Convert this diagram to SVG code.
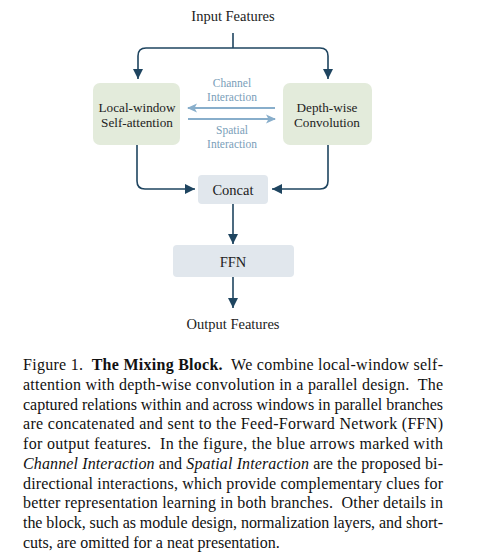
<svg xmlns="http://www.w3.org/2000/svg" width="480" height="558" viewBox="0 0 480 558">
<style>
  text { font-family: "Liberation Serif", "Times New Roman", Times, serif; fill: #222; }
  .big { font-size: 14.5px; text-anchor: middle; }
  .node { font-size: 13.2px; text-anchor: middle; }
  .inter { font-size: 11.5px; text-anchor: middle; fill: #7a9eb9; }
  .cap { font-size: 16px; fill: #111; white-space: pre; }
  .conn { fill: none; stroke: #1f4560; stroke-width: 1.6; }
  .blue { fill: none; stroke: #88aecb; stroke-width: 2.2; }
  .green { fill: #e3ebdb; }
  .grey { fill: #e1e7ed; }
</style>
<defs>
  <marker id="ah" markerUnits="userSpaceOnUse" markerWidth="10" markerHeight="10" refX="10" refY="5" orient="auto">
    <path d="M0,0 L10,5 L0,10 z" fill="#1f4560"/>
  </marker>
  <marker id="bh" markerUnits="userSpaceOnUse" markerWidth="10" markerHeight="10" refX="9" refY="5" orient="auto">
    <path d="M0,0.5 L10,5 L0,9.5 L2.5,5 z" fill="#88aecb"/>
  </marker>
</defs>

<g id="input"><text class="big" x="233" y="21">Input Features</text></g>

<g id="connectors">
  <path class="conn" d="M233,33 V48"/>
  <path class="conn" d="M233,48 H320 Q328,48 328,56 V79" marker-end="url(#ah)"/>
  <path class="conn" d="M233,48 H146 Q138,48 138,56 V79" marker-end="url(#ah)"/>
  <path class="conn" d="M137,145 V181 Q137,189 145,189 H195" marker-end="url(#ah)"/>
  <path class="conn" d="M328,145 V181 Q328,189 320,189 H272" marker-end="url(#ah)"/>
  <path class="conn" d="M233,204 V244" marker-end="url(#ah)"/>
  <path class="conn" d="M233,277 V308" marker-end="url(#ah)"/>
  <path class="blue" d="M275,108 H188" marker-end="url(#bh)"/>
  <path class="blue" d="M188,119 H275" marker-end="url(#bh)"/>
</g>

<g id="local-window">
  <rect class="green" x="93" y="83" width="87" height="62" rx="7"/>
  <text class="node" x="137" y="112">Local-window</text>
  <text class="node" x="137" y="127">Self-attention</text>
</g>

<g id="depth-wise">
  <rect class="green" x="283" y="83" width="89" height="62" rx="7"/>
  <text class="node" x="327" y="112">Depth-wise</text>
  <text class="node" x="327" y="127">Convolution</text>
</g>

<g id="channel-label">
  <text class="inter" x="232" y="87">Channel</text>
  <text class="inter" x="232" y="101">Interaction</text>
</g>
<g id="spatial-label">
  <text class="inter" x="232" y="134">Spatial</text>
  <text class="inter" x="232" y="148">Interaction</text>
</g>

<g id="concat">
  <rect class="grey" x="198" y="175" width="70" height="29" rx="4"/>
  <text class="big" x="233" y="195">Concat</text>
</g>

<g id="ffn">
  <rect class="grey" x="173" y="245" width="121" height="32" rx="4"/>
  <text class="big" x="233" y="267">FFN</text>
</g>

<g id="output"><text class="big" x="233" y="329">Output Features</text></g>

<g id="caption">
  <text class="cap" x="23" y="370" textLength="420" lengthAdjust="spacing">Figure 1.  <tspan font-weight="bold">The Mixing Block.</tspan>  We combine local-window self-</text>
  <text class="cap" x="23" y="389.8" textLength="420" lengthAdjust="spacing">attention with depth-wise convolution in a parallel design.  The</text>
  <text class="cap" x="23" y="409.6" textLength="420" lengthAdjust="spacing">captured relations within and across windows in parallel branches</text>
  <text class="cap" x="23" y="429.3" textLength="420" lengthAdjust="spacing">are concatenated and sent to the Feed-Forward Network (FFN)</text>
  <text class="cap" x="23" y="449.1" textLength="420" lengthAdjust="spacing">for output features.  In the figure, the blue arrows marked with</text>
  <text class="cap" x="23" y="468.9" textLength="420" lengthAdjust="spacing"><tspan font-style="italic">Channel Interaction</tspan> and <tspan font-style="italic">Spatial Interaction</tspan> are the proposed bi-</text>
  <text class="cap" x="23" y="488.7" textLength="420" lengthAdjust="spacing">directional interactions, which provide complementary clues for</text>
  <text class="cap" x="23" y="508.4" textLength="420" lengthAdjust="spacing">better representation learning in both branches.  Other details in</text>
  <text class="cap" x="23" y="528.2" textLength="420" lengthAdjust="spacing">the block, such as module design, normalization layers, and short-</text>
  <text class="cap" x="23" y="548">cuts, are omitted for a neat presentation.</text>
</g>
</svg>
